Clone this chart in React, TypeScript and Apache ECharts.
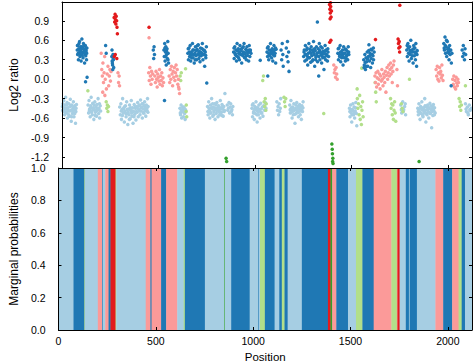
import React, { useEffect, useRef } from "react";
import * as echarts from "echarts";

// State colours (Paired palette)
const STATE_COLORS = ["#a6cee3", "#1f78b4", "#b2df8a", "#33a02c", "#fb9a99", "#e31a1c"];
// 0 light blue, 1 dark blue, 2 light green, 3 green, 4 pink, 5 red

// Segments of the marginal probabilities panel: [start, end, state]
const segments: number[][] = [
  [0, 77, 0], [77, 133, 1], [133, 136, 2], [136, 202, 0], [202, 224, 4], [224, 227, 1],
  [227, 240, 0], [240, 257, 4], [257, 267, 1], [267, 293, 5], [293, 297, 2], [297, 448, 0],
  [448, 472, 4], [472, 478, 1], [478, 527, 4], [527, 553, 1], [553, 610, 4], [610, 643, 0],
  [643, 649, 2], [649, 752, 1], [752, 852, 0], [852, 855, 3], [855, 887, 0], [887, 982, 1],
  [982, 1025, 0], [1025, 1028, 1], [1028, 1035, 0], [1035, 1060, 2], [1060, 1110, 1],
  [1110, 1134, 0], [1134, 1147, 1], [1147, 1161, 2], [1161, 1177, 1], [1177, 1250, 0],
  [1250, 1384, 1], [1384, 1397, 5], [1397, 1406, 3], [1406, 1427, 4], [1427, 1487, 1],
  [1487, 1528, 0], [1528, 1561, 2], [1561, 1619, 1], [1619, 1710, 4], [1710, 1738, 2],
  [1738, 1741, 4], [1741, 1752, 5], [1752, 1784, 0], [1784, 1800, 1], [1800, 1804, 0],
  [1804, 1841, 1], [1841, 1936, 0], [1936, 1976, 4], [1976, 2022, 1], [2022, 2055, 4],
  [2055, 2071, 2], [2071, 2088, 1], [2088, 2124, 0],
];

// Scatter points: flat [x, y*100, x, y*100, ...]
const lightBluePts = [
  2,-42,3,-48,5,-38,7,-50,9,-33,10,-44,12,-47,14,-55,16,-40,17,-51,19,-28,21,-45,23,-40,24,-52,26,-36,28,-60,29,-47,31,-44,33,-49,35,-55,36,-38,38,-57,40,-49,41,-42,43,-31,45,-41,46,-48,48,-65,50,-58,51,-40,54,-53,56,-45,57,-50,59,-35,61,-43,62,-58,64,-47,66,-53,67,-41,70,-68,72,-50,73,-45,75,-39,
  135,-40,138,-52,140,-33,142,-48,143,-46,146,-58,148,-44,149,-41,151,-28,153,-51,154,-49,157,-55,159,-37,161,-47,162,-44,165,-62,167,-40,168,-47,170,-35,172,-56,173,-51,176,-43,178,-49,179,-57,181,-39,183,-45,184,-48,187,-30,189,-46,190,-53,192,-45,194,-38,195,-60,198,-41,200,-49,
  299,-43,302,-55,305,-38,307,-49,308,-62,311,-47,313,-56,314,-30,317,-52,319,-46,320,-44,323,-66,325,-42,326,-50,329,-41,331,-53,332,-58,335,-35,337,-47,338,-53,341,-70,343,-51,344,-46,347,-55,349,-62,350,-40,353,-61,355,-44,356,-48,359,-33,361,-52,362,-57,365,-44,367,-49,368,-68,371,-50,373,-58,374,-39,377,-54,379,-43,380,-45,383,-63,385,-50,386,-42,389,-51,391,-45,392,-36,395,-58,397,-41,398,-47,401,-40,403,-49,404,-55,407,-32,409,-44,410,-49,413,-43,415,-38,416,-60,419,-38,421,-52,422,-46,425,-52,427,-41,428,-35,431,-44,433,-48,434,-57,437,-40,439,-45,440,-48,443,-30,445,-51,446,-42,
  611,-45,613,-52,614,-55,617,-40,619,-48,620,-60,623,-50,625,-43,626,-47,629,-58,631,-51,632,-43,635,-53,637,-46,638,-62,641,-48,
  754,-42,756,-50,757,-55,760,-35,762,-45,763,-48,766,-60,768,-52,769,-40,772,-52,774,-44,775,-30,778,-46,780,-38,781,-57,784,-43,786,-55,787,-50,790,-38,792,-47,793,-62,796,-45,798,-40,799,-53,802,-36,804,-48,805,-49,808,-58,810,-44,811,-41,814,-47,816,-51,817,-55,820,-33,822,-46,823,-44,826,-51,828,-56,829,-39,832,-46,834,-42,835,-57,838,-42,840,-50,841,-48,844,-22,856,-40,859,-48,862,-45,865,-36,868,-52,871,-43,874,-38,877,-50,880,-47,883,-55,885,-42,
  984,-45,986,-40,987,-58,990,-38,992,-52,993,-50,996,-62,998,-46,999,-42,1002,-53,1004,-44,1005,-35,1008,-48,1010,-55,1011,-66,1014,-44,1016,-50,1017,-55,1020,-40,1022,-47,1023,-49,1026,-60,1029,-37,1031,-52,1032,-46,1035,-52,1038,-43,1041,-57,1045,-41,1049,-48,1053,-36,1057,-45,
  1113,-35,1116,-48,1119,-42,1122,-55,1125,-38,1128,-50,1131,-45,1133,-30,
  1180,-40,1182,-47,1183,-52,1186,-33,1188,-44,1189,-47,1192,-60,1194,-50,1195,-43,1198,-55,1200,-46,1201,-38,1204,-48,1206,-54,1207,-68,1210,-45,1212,-40,1213,-53,1216,-36,1218,-47,1219,-50,1222,-42,1224,-51,1225,-58,1228,-46,1230,-43,1231,-39,1234,-55,1236,-49,1237,-44,1240,-62,1242,-46,1243,-41,1246,-50,1248,-44,1249,-35,
  1489,-45,1491,-50,1492,-58,1495,-40,1497,-47,1498,-52,1501,-66,1503,-55,1504,-47,1507,-38,1509,-49,1510,-55,1513,-43,1515,-52,1516,-60,1519,-49,1521,-44,1522,-36,1525,-53,1527,-72,
  1755,-40,1758,-47,1760,-52,1765,-35,1768,-50,1770,-47,1775,-42,1778,-38,1780,-55,
  1843,-45,1845,-50,1846,-55,1849,-38,1851,-46,1852,-50,1855,-62,1857,-52,1858,-42,1861,-53,1863,-44,1864,-35,1867,-47,1869,-56,1870,-58,1873,-44,1875,-49,1876,-52,1879,-30,1881,-41,1882,-48,1885,-66,1887,-53,1888,-43,1891,-55,1893,-47,1894,-40,1897,-50,1899,-44,1900,-60,1903,-45,1905,-52,1906,-37,1909,-53,1911,-41,1912,-47,1915,-75,1917,-50,1918,-42,1921,-56,1923,-46,1924,-39,1927,-49,1929,-55,1930,-44,1933,-52,
  2090,-38,2093,-46,2095,-50,2100,-43,2103,-52,2105,-55,2110,-40,2113,-47,2115,-48,2120,-45,
];

const darkBluePts = [
  79,45,80,52,81,38,83,52,84,40,85,30,87,47,88,55,89,40,91,58,92,44,93,35,95,44,96,38,97,50,99,28,100,47,101,42,103,62,104,50,105,37,107,48,108,41,109,33,111,55,112,46,113,41,115,46,116,52,117,25,119,39,120,44,121,52,123,36,124,48,125,44,127,30,128,40,129,48,122,-4,130,3,
  226,52,229,40,258,35,259,45,260,28,261,25,262,22,263,15,264,38,265,33,266,30,268,18,
  473,45,475,32,477,50,479,38,
  528,45,530,35,531,-33,532,55,533,48,534,28,536,42,537,35,538,50,540,22,541,44,542,38,544,47,545,40,546,32,548,58,549,30,550,40,552,25,
  652,40,654,47,655,30,658,48,660,42,661,35,664,52,666,38,667,28,670,42,672,33,673,38,676,55,678,45,679,33,682,45,684,38,685,25,688,40,690,30,691,50,694,36,696,44,697,30,700,46,702,52,703,38,706,53,708,40,709,32,712,43,714,36,715,27,718,48,720,41,721,36,724,40,726,47,727,55,730,30,732,38,733,45,736,38,738,44,739,20,742,42,744,37,745,33,748,50,750,-6,
  889,42,891,48,892,32,895,50,897,40,898,38,901,45,903,36,904,28,907,55,909,44,910,35,913,47,915,33,916,40,919,30,921,42,922,52,925,38,927,46,928,44,931,25,933,38,934,48,937,36,939,50,940,42,943,55,945,40,946,33,949,40,951,35,952,46,955,30,957,44,958,50,961,37,963,41,964,43,967,28,969,45,970,52,973,35,975,42,976,45,979,40,
  1027,29,1066,5,
  1062,42,1064,48,1065,35,1068,50,1070,40,1071,30,1074,45,1076,36,1077,38,1080,55,1082,44,1083,40,1086,33,1088,42,1089,47,1092,28,1094,38,1095,43,1098,52,1100,45,1101,36,1104,40,1106,48,1107,25,1109,46,
  1135,45,1138,30,1141,55,1144,38,1146,20,1162,48,1165,35,1168,58,1171,27,1174,42,1176,12,
  1252,35,1254,42,1255,45,1258,28,1260,38,1261,52,1264,38,1266,45,1267,30,1270,48,1272,35,1273,22,1276,40,1278,33,1279,55,1282,33,1284,46,1285,42,1288,26,1290,40,1291,50,1294,36,1296,28,1297,45,1300,30,1302,42,1303,58,1306,38,1308,47,1309,20,1312,44,1314,30,1315,34,1318,50,1320,36,1321,40,1323,88,1324,27,1327,47,1329,41,1330,5,1331,35,1333,55,1335,44,1336,30,1339,42,1341,50,1342,38,1345,25,1347,36,1348,48,1351,33,1353,40,1354,43,1357,15,1359,34,1360,40,1363,52,1365,44,1366,30,1369,45,1371,38,1372,36,1375,28,1377,47,1378,42,1381,35,
  1429,40,1431,47,1432,30,1435,48,1437,38,1438,35,1441,52,1443,42,1444,27,1447,42,1449,33,1450,38,1453,45,1455,36,1456,22,1459,50,1461,40,1462,33,1465,40,1467,46,1468,28,1471,46,1473,32,1474,36,1477,43,1479,38,1480,30,1483,50,1485,42,1486,38,
  1563,30,1565,18,1566,22,1569,38,1571,26,1572,15,1575,33,1577,20,1578,27,1581,42,1583,31,1584,20,1587,35,1589,44,1590,53,1593,28,1595,36,1596,40,1599,18,1601,46,1602,32,1605,45,1607,38,1608,25,1611,36,1613,48,1614,30,1617,42,
  1786,45,1788,52,1789,35,1792,55,1794,48,1795,40,1798,28,1801,50,1803,44,1804,38,1807,60,1809,42,1810,32,1813,45,1815,36,1816,42,1819,25,1821,47,1822,52,1825,36,1827,42,1828,48,1831,30,1833,55,1834,40,1837,20,1839,38,1840,44,
  1978,55,1980,48,1981,45,1984,65,1986,52,1987,40,1990,50,1992,60,1993,35,1996,58,1998,46,1999,42,2002,48,2004,40,2005,30,2008,52,2010,44,2011,38,2014,45,2016,-10,2017,25,2020,40,
  2073,45,2076,35,2079,52,2082,40,2085,30,2088,47,2091,38,
];

const pinkPts = [
  203,40,206,15,209,5,211,-20,212,25,215,-5,218,10,221,35,222,-25,224,0,230,-15,234,8,238,20,242,-10,245,5,248,15,251,-3,254,12,
  290,10,293,-5,296,5,298,-10,
  449,10,451,64,452,-2,455,18,458,5,461,-8,464,12,467,0,470,8,481,5,484,-5,487,12,490,0,493,-12,496,8,499,3,502,-3,505,15,508,-8,511,5,514,-2,517,10,520,-10,523,2,526,-5,
  555,5,558,-5,561,15,564,0,567,20,570,8,573,-10,576,12,579,3,582,18,585,-2,588,10,591,22,594,5,597,15,600,-8,603,0,604,-12,606,-15,609,-22,
  1408,22,1411,10,1414,15,1417,3,1420,18,1423,8,1426,0,
  1621,5,1624,-5,1627,10,1630,-12,1633,2,1636,12,1639,-8,1642,0,1645,8,1648,-15,1651,5,1654,-3,1657,15,1660,0,1663,-10,1666,8,1669,3,1672,-5,1675,12,1678,-20,1681,6,1684,18,1687,0,1690,10,1693,22,1696,5,1699,15,1702,25,1705,8,1708,18,1711,-5,1714,12,1717,22,1720,28,1735,15,1738,-10,
  1938,15,1941,5,1944,20,1947,0,1950,10,1953,-3,1956,18,1959,8,1962,12,1965,2,1968,22,1971,6,1974,-2,
  2024,0,2027,-8,2030,5,2033,-12,2036,-2,2039,-15,2042,3,2045,-6,2048,-10,2051,0,2054,-5,
];

const redPts = [
  270,95,271,35,273,88,275,100,276,38,277,92,279,85,281,97,283,90,284,32,285,80,287,70,
  451,80,
  1386,115,1387,57,1388,108,1389,93,1390,102,1391,118,1392,112,1393,60,1394,96,1396,105,
  1624,61,
  1741,62,1743,55,1745,48,1747,58,1749,42,1750,114,1751,50,
];

const lightGreenPts = [
  134,-18,229,-35,232,-45,235,-40,238,-50,241,-42,
  612,5,615,-2,618,10,640,16,643,-50,644,-40,646,-58,
  1040,-2,1044,5,1047,-35,1050,-42,1053,-30,1056,-48,1058,-38,
  1150,-28,1153,-35,1156,-42,1159,-30,1356,-53,
  1529,-15,1530,-30,1533,-45,1536,-38,1539,-55,1542,-25,1545,-62,1548,-42,1551,-70,1553,17,1554,-48,1557,-35,1560,-58,
  1622,-5,1625,-20,1628,-35,
  1702,-30,1705,-45,1708,-38,1711,-55,1714,-40,1717,-62,1720,-48,1723,-35,1726,-52,1729,-65,
  1758,-38,1762,-45,1766,-50,1800,0,
  2057,-30,2060,-42,2063,-35,2066,-48,2069,-40,2090,-10,
];

const greenPts = [
  850,-122,853,-127,
  1398,-100,1400,-108,1401,-115,1402,-127,1403,-122,1404,-130,
  1850,-127,
];

const xTicks = [0, 500, 1000, 1500, 2000];
const logTicks = [-1.2, -0.9, -0.6, -0.3, 0.0, 0.3, 0.6, 0.9];
const probTicks = [0, 0.2, 0.4, 0.6, 0.8, 1.0];

const X_MAX = 2124;
const LOG_MIN = -1.37;
const LOG_MAX = 1.19;

const FONT = "Liberation Sans, Arial, sans-serif";

function toPairs(flat: number[]) {
  const out: number[][] = [];
  for (let i = 0; i + 1 < flat.length; i += 2) out.push([flat[i], flat[i + 1] / 100]);
  return out;
}

function xAxisCfg(gridIndex: number, position: string, showLabel: boolean, name?: string) {
  return {
    type: "value",
    gridIndex,
    position,
    min: 0,
    max: X_MAX,
    interval: 500,
    z: 10,
    name: name || "",
    nameLocation: "middle",
    nameGap: 21,
    nameTextStyle: { color: "#000", fontSize: 11.5, fontFamily: FONT },
    axisLine: { show: true, onZero: false, lineStyle: { color: "#000", width: 1 } },
    axisTick: { show: true, inside: true, length: 3, customValues: xTicks, lineStyle: { color: "#000" } },
    axisLabel: {
      show: showLabel,
      customValues: xTicks,
      color: "#000",
      fontSize: 10.5,
      fontFamily: FONT,
      margin: 5,
      formatter: (v: number) => (xTicks.indexOf(v) >= 0 ? String(v) : ""),
    },
    splitLine: { show: false },
  };
}

function yAxisCfg(gridIndex: number, position: string, showLabel: boolean, kind: "log" | "prob", name?: string) {
  const ticks = kind === "log" ? logTicks : probTicks;
  return {
    type: "value",
    gridIndex,
    position,
    min: kind === "log" ? LOG_MIN : 0,
    max: kind === "log" ? LOG_MAX : 1,
    interval: kind === "log" ? undefined : 0.2,
    z: 10,
    name: name || "",
    nameLocation: "middle",
    nameRotate: 90,
    nameGap: kind === "log" ? 27 : 24,
    nameTextStyle: { color: "#000", fontSize: 12, fontFamily: FONT },
    axisLine: { show: true, onZero: false, lineStyle: { color: "#000", width: 1 } },
    axisTick: { show: true, inside: true, length: 3, customValues: ticks, lineStyle: { color: "#000" } },
    axisLabel: {
      show: showLabel,
      customValues: ticks,
      color: "#000",
      fontSize: 10.5,
      fontFamily: FONT,
      margin: 13,
      formatter: (v: number) => {
        const hit = ticks.some((t) => Math.abs(t - v) < 1e-6);
        if (!hit) return "";
        return (Math.abs(v) < 1e-9 ? 0 : v).toFixed(1);
      },
    },
    splitLine: { show: false },
  };
}

export default function App() {
  const ref = useRef<HTMLDivElement>(null);
  useEffect(() => {
    if (!ref.current) return;
    const chart = echarts.init(ref.current, null, { renderer: "svg" });
    const scatter = (data: number[], color: string) => ({
      type: "scatter",
      xAxisIndex: 0,
      yAxisIndex: 0,
      data: toPairs(data),
      symbol: "circle",
      symbolSize: 3.5,
      silent: true,
      clip: true,
      itemStyle: { color, opacity: 1 },
      emphasis: { disabled: true },
      z: 3,
    });
    chart.setOption({
      animation: false,
      backgroundColor: "#fff",
      grid: [
        { left: 42, top: 2, width: 430, height: 166 },
        { left: 42, top: 168, width: 430, height: 166 },
      ],
      xAxis: [
        xAxisCfg(0, "bottom", false),
        xAxisCfg(0, "top", false),
        xAxisCfg(1, "bottom", true, "Position"),
        xAxisCfg(1, "top", false),
      ],
      yAxis: [
        yAxisCfg(0, "left", true, "log", "Log2 ratio"),
        yAxisCfg(0, "right", false, "log"),
        yAxisCfg(1, "left", true, "prob", "Marginal probabilities"),
        yAxisCfg(1, "right", false, "prob"),
      ],
      series: [
        scatter(lightBluePts, STATE_COLORS[0]),
        scatter(lightGreenPts, STATE_COLORS[2]),
        scatter(pinkPts, STATE_COLORS[4]),
        scatter(darkBluePts, STATE_COLORS[1]),
        scatter(redPts, STATE_COLORS[5]),
        scatter(greenPts, STATE_COLORS[3]),
        {
          type: "custom",
          xAxisIndex: 2,
          yAxisIndex: 2,
          silent: true,
          clip: true,
          data: segments,
          encode: { x: [0, 1] },
          renderItem: (params: any, api: any) => {
            const p0 = api.coord([api.value(0), 1]);
            const p1 = api.coord([api.value(1), 0]);
            return {
              type: "rect",
              shape: { x: p0[0], y: p0[1], width: p1[0] - p0[0] + 0.4, height: p1[1] - p0[1] },
              style: { fill: STATE_COLORS[api.value(2)], stroke: null },
            };
          },
          z: 2,
        },
      ],
    });
    return () => chart.dispose();
  }, []);
  return (
    <div
      ref={ref}
      style={{ position: "fixed", left: 0, top: 0, width: 474, height: 364, background: "#fff" }}
    />
  );
}
